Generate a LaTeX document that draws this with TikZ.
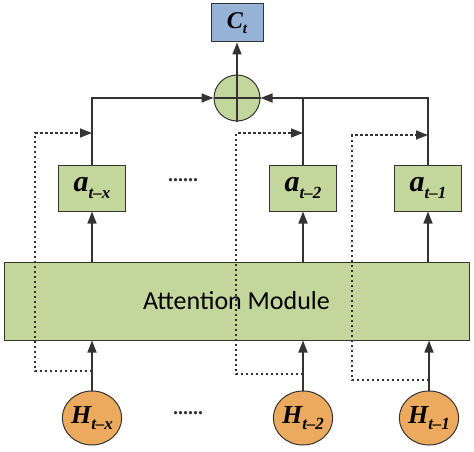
\documentclass[tikz,border=0pt]{standalone}
\usepackage{fontspec}
\setmainfont{Liberation Serif}
\newfontfamily\modfont{Carlito}
\usetikzlibrary{arrows.meta,shapes.geometric}
\definecolor{grn}{HTML}{C3D69B}
\definecolor{blu}{HTML}{95B3D7}
\definecolor{org}{HTML}{EBAA5E}
\definecolor{ln}{HTML}{333333}
\newcommand{\lab}[4]{{\fontsize{#1}{#1}\selectfont\bfseries\itshape #3\raisebox{-0.22em}{\fontsize{#2}{#2}\selectfont #4}}}
\begin{document}
\begin{tikzpicture}[x=1pt,y=-1pt,
 box/.style={draw=ln, line width=1pt, fill=grn, minimum width=67pt, minimum height=46pt, inner sep=0},
 hnode/.style={ellipse, draw=ln, line width=1pt, fill=org, minimum width=58pt, minimum height=54pt, inner sep=0},
 line/.style={draw=ln, line width=1.6pt},
 conn/.style={line, -{Triangle[length=12pt,width=9pt]}},
 dots/.style={line, dash pattern=on 2.5pt off 2.5pt, -{Triangle[length=12pt,width=9pt]}},
 ell/.style={font=\bfseries\fontsize{20}{20}\selectfont, text=ln, inner sep=0}
]
\useasboundingbox (0,0) rectangle (474,452);
\node[draw=ln, fill=blu, minimum width=52pt, minimum height=38pt, inner sep=0, line width=1pt] (ct) at (237,23) {\lab{24}{15}{C}{t}};
\node[circle, draw=ln, fill=grn, minimum size=46pt, inner sep=0, line width=1pt] (sum) at (237,98) {};
\draw[line, line width=1.3pt] (sum.north) -- (sum.south) (sum.west) -- (sum.east);
\node[box] (a1) at (92,188) {\lab{30}{17}{a}{t–x}};
\node[box] (a2) at (303,188) {\lab{30}{17}{a}{t–2}};
\node[box] (a3) at (428,188) {\lab{30}{17}{a}{t–1}};
\node[ell] (da) at (183,180) {......};
\node[draw=ln, fill=grn, line width=1pt, minimum width=465pt, minimum height=78pt, inner sep=0] (att) at (236.5,301) {\modfont\fontsize{26}{26}\selectfont Attention Module};
\node[hnode] (h1) at (92,418) {\lab{26}{17}{H}{t–x}};
\node[hnode] (h2) at (303,418) {\lab{26}{17}{H}{t–2}};
\node[hnode] (h3) at (429,418) {\lab{26}{17}{H}{t–1}};
\node[ell] (dh) at (188,413) {......};
% arrows
\draw[conn] (sum.north) -- (ct.south);
\foreach \i in {1,2,3} {
  \draw[conn] (h\i.north) -- (att.south -| h\i.north);
  \draw[conn] (att.north -| a\i.south) -- (a\i.south);
}
\draw[conn] (a1.north) |- (sum.west);
\draw[conn] (a3.north) |- (sum.east);
\draw[line] (a2.north) -- (a2.north |- sum.east);
% dotted skip paths
\coordinate (s1) at (92,371);  \coordinate (e1) at (92,133);
\coordinate (s2) at (303,374); \coordinate (e2) at (303,133);
\coordinate (s3) at (429,380); \coordinate (e3) at (428,135);
\draw[dots] (s1) -- (35,371) -- (35,133) -- (e1);
\draw[dots] (s2) -- (236,374) -- (236,133) -- (e2);
\draw[dots] (s3) -- (352,380) -- (352,135) -- (e3);
\end{tikzpicture}
\end{document}
